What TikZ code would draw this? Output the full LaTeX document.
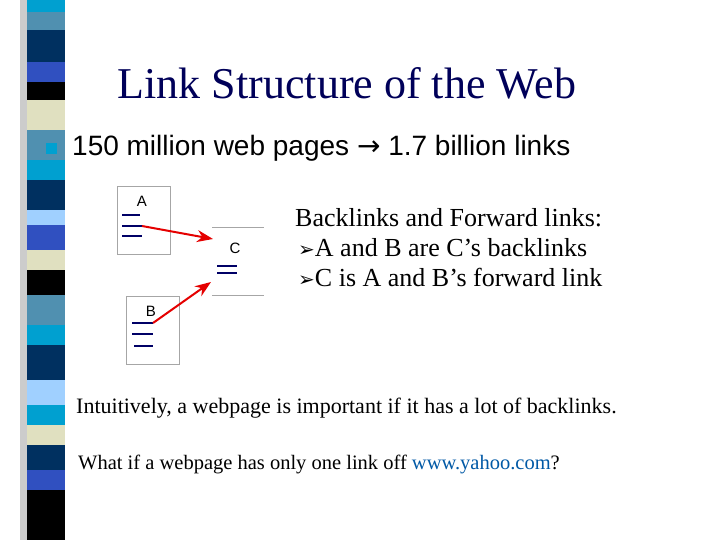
\documentclass[tikz,border=0pt]{standalone}
\usepackage{fontspec}
\setmainfont{Liberation Serif}
\newfontfamily\arialf{Liberation Sans}
\newfontfamily\dejav{DejaVu Sans}
\usetikzlibrary{arrows.meta}
\begin{document}
\begin{tikzpicture}[x=1pt,y=-1pt,
  lbl/.style={anchor=west,inner sep=0,font=\fontsize{26}{30}\selectfont},
  box/.style={draw=gray!70,line width=0.8pt},
  bar/.style={draw=blue!40!black,line width=2.6pt},
  lnk/.style={draw=red!90!black,line width=2pt,-{Stealth[length=16pt,width=12pt]}}]
\useasboundingbox (0,0) rectangle (720,540);
\fill[white] (0,0) rectangle (720,540);
\fill[gray!40] (20,0) rectangle (27,540);
\foreach \a/\b/\c in {0/12/00A0D0,12/30/5090B0,30/62/003060,62/82/3050C0,82/100/000000,100/130/E0E0C0,130/160/5090B0,160/180/00A0D0,180/210/003060,210/225/A0D0FF,225/250/3050C0,250/270/E0E0C0,270/295/000000,295/325/5090B0,325/345/00A0D0,345/380/003060,380/405/A0D0FF,405/425/00A0D0,425/445/E0E0C0,445/470/003060,470/490/3050C0,490/540/000000}{
  \definecolor{tmp}{HTML}{\c}
  \fill[tmp] (27,\a) rectangle (65,\b);
}
\definecolor{bul}{HTML}{00A0D0}
\fill[bul] (46,143) rectangle (57,154);
\node[inner sep=0,font=\fontsize{44}{48}\selectfont,text=blue!35!black] (title) at (347,83) {Link Structure of the Web};
\node[lbl,font=\arialf\fontsize{28}{32}\selectfont] (b1) at (72,148) {150 million web pages {\dejav →} 1.7 billion links};
% diagram
\draw[box] (117,186) rectangle (170,254);
\node[inner sep=0,font=\arialf\fontsize{15}{18}\selectfont] (la) at (142,201) {A};
\draw[bar] (122,215)--(140,215) (122,226)--(142,226) (122,236)--(142,236);
\draw[box] (212,227)--(264,227) (212,295)--(264,295);
\node[inner sep=0,font=\arialf\fontsize{15}{18}\selectfont] (lc) at (235,248) {C};
\draw[bar] (217,266)--(237,266) (217,273)--(237,273);
\draw[box] (126,296) rectangle (179,364);
\node[inner sep=0,font=\arialf\fontsize{15}{18}\selectfont] (lb) at (151,311) {B};
\draw[bar] (132,323)--(153,323) (132,334)--(153,334) (134,346)--(153,346);
\coordinate (as) at (142,226); \coordinate (ae) at (213,239);
\coordinate (bs) at (153,323); \coordinate (be) at (211,282);
\draw[lnk] (as)--(ae);
\draw[lnk] (bs)--(be);
\node[lbl] (t1) at (295,218) {Backlinks and Forward links:};
\node[lbl] (t2) at (298,248) {{\dejav\fontsize{20}{24}\selectfont ➢}A and B are C’s backlinks};
\node[lbl] (t3) at (298,277) {{\dejav\fontsize{20}{24}\selectfont ➢}C is A and B’s forward link};
\node[lbl,font=\fontsize{22}{26}\selectfont] (t4) at (76,408) {Intuitively, a webpage is important if it has a lot of backlinks.};
\node[lbl,font=\fontsize{20.5}{24}\selectfont] (t5) at (78,464) {What if a webpage has only one link off \textcolor{teal!70!blue}{www.yahoo.com}?};
\end{tikzpicture}
\end{document}
